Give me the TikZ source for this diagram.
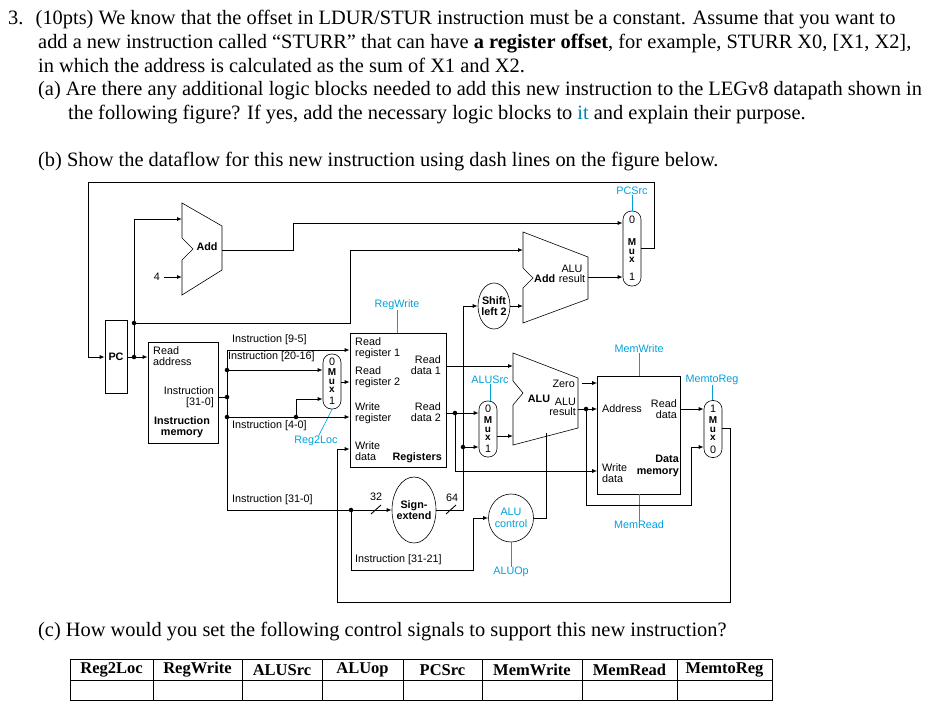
\documentclass[tikz,border=0pt]{standalone}
\usepackage{fontspec}
\setmainfont{Liberation Serif}
\newfontfamily\dsans{Liberation Sans}
\usetikzlibrary{arrows.meta,shapes.geometric}
\definecolor{ctl}{RGB}{0,160,220}
\begin{document}
\begin{tikzpicture}[x=1pt,y=-1pt,
  q/.style={anchor=base west,inner sep=0pt,font=\fontsize{20.4}{22}\selectfont},
  lb/.style={inner sep=0pt,font=\dsans\fontsize{10.8}{11.5}\selectfont,align=center},
  lbl/.style={lb,align=left,anchor=west},
  lbr/.style={lb,align=right,anchor=east},
  cs/.style={lb,text=ctl},
  bl/.style={lb,font=\dsans\bfseries\fontsize{10.8}{11.5}\selectfont},
  mx/.style={lb,font=\dsans\bfseries\fontsize{10}{8.5}\selectfont},
  w/.style={line width=0.9pt},
  a/.style={w,-{Latex[length=5pt,width=4pt]}},
  blk/.style={draw,line width=0.6pt,fill=white},
  dot/.style={circle,fill,inner sep=1.6pt},
  mux/.style={draw,line width=0.6pt,rounded corners=8.5pt,minimum width=18pt,inner sep=0pt},
  th/.style={inner sep=0pt,font=\bfseries\fontsize{16.5}{18}\selectfont}]
\useasboundingbox (0,0) rectangle (941,715);
% question text
\node[q] (l1) at (8,24) {3.\hspace{0.6em}(10pts) We know that the offset in LDUR/STUR instruction must be a constant. Assume that you want to};
\node[q] (l2) at (38,48) {add a new instruction called “STURR” that can have \textbf{a register offset}, for example, STURR X0, [X1, X2],};
\node[q] (l3) at (38,72) {in which the address is calculated as the sum of X1 and X2.};
\node[q] (l4) at (38,95) {(a) Are there any additional logic blocks needed to add this new instruction to the LEGv8 datapath shown in};
\node[q] (l5) at (68,119) {the following figure? If yes, add the necessary logic blocks to \textcolor{ctl!80!black}{it} and explain their purpose.};
\node[q] (l6) at (38,166) {(b) Show the dataflow for this new instruction using dash lines on the figure below.};
\node[q] (l7) at (38,636) {(c) How would you set the following control signals to support this new instruction?};
% table
\draw[line width=0.8pt] (70,659) rectangle (772,700);
\draw[line width=0.8pt] (70,680) -- (772,680);
\foreach \x in {153,242,322,403,482,582,677}{\draw[line width=0.8pt] (\x,659) -- (\x,700);}
\node[th] (t1) at (111.5,670) {Reg2Loc};
\node[th] (t2) at (197.5,670) {RegWrite};
\node[th] (t3) at (282,670) {ALUSrc};
\node[th] (t4) at (362.5,670) {ALUop};
\node[th] (t5) at (442.5,670) {PCSrc};
\node[th] (t6) at (532,670) {MemWrite};
\node[th] (t7) at (629.5,670) {MemRead};
\node[th] (t8) at (724.5,670) {MemtoReg};
% ---- datapath blocks
\node[blk,minimum width=22pt,minimum height=73pt] (pc) at (116,356.5) {};
\node[bl] (pct) at (116,357) {PC};
\node[blk,minimum width=70pt,minimum height=101pt] (im) at (183,392.5) {};
\node[lbl] (imra) at (153,356) {Read\\address};
\node[lbr] (imi) at (214,397) {Instruction\\{}[31-0]};
\node[bl] (imm) at (182,427) {Instruction\\memory};
% Add 1
\draw[blk] (182,203) -- (222,226) -- (222,270) -- (182,295) -- (182,260) -- (193,249) -- (182,238) -- cycle;
\node[bl] (add1) at (207,247) {Add};
\node[lb] (four) at (157,277) {4};
% Add 2
\draw[blk] (523,232) -- (588,257) -- (588,299) -- (523,323) -- (523,288) -- (533,278) -- (523,268) -- cycle;
\node[bl,anchor=west] (add2) at (534,279) {Add};
\node[lb] (add2r) at (572,274) {ALU\\[-2pt]result};
% PCSrc mux
\node[mux,minimum height=75pt] (m1) at (632,248.5) {};
\node[lb] (m1a) at (632,220) {0};
\node[mx] (m1b) at (632,251) {M\\u\\x};
\node[lb] (m1c) at (632,277) {1};
\node[cs] (pcsrc) at (632,191) {PCSrc};
% shift left 2
\node[blk,ellipse,minimum width=32pt,minimum height=46pt,inner sep=0pt] (sl) at (494,306) {};
\node[bl] (slt) at (494,306) {Shift\\left 2};
% Registers
\node[blk,minimum width=96pt,minimum height=134pt] (rg) at (398,400) {};
\node[lbl] (rr1) at (355,348) {Read\\register 1};
\node[lbl] (rr2) at (355,377) {Read\\register 2};
\node[lbl] (wr) at (355,413) {Write\\register};
\node[lbl] (wd) at (355,451) {Write\\data};
\node[lbr] (rd1) at (441,365) {Read\\data 1};
\node[lbr] (rd2) at (441,412) {Read\\data 2};
\node[bl,anchor=east] (rgt) at (442,458) {Registers};
\node[cs] (regwrite) at (397,305) {RegWrite};
% Reg2Loc mux
\node[mux,minimum height=55pt] (m2) at (332,381.5) {};
\node[lb] (m2a) at (332,362) {0};
\node[mx] (m2b) at (332,381) {M\\u\\x};
\node[lb] (m2c) at (332,401) {1};
\node[cs] (reg2loc) at (316,441) {Reg2Loc};
% sign extend
\node[blk,ellipse,minimum width=44pt,minimum height=66pt,inner sep=0pt] (se) at (414,510) {};
\node[bl] (set) at (414,510) {Sign-\\extend};
% ALUSrc mux
\node[mux,minimum height=56pt] (m3) at (488,429) {};
\node[lb] (m3a) at (488,409) {0};
\node[mx] (m3b) at (488,429) {M\\u\\x};
\node[lb] (m3c) at (488,449) {1};
\node[cs] (alusrc) at (490,380) {ALUSrc};
% ALU
\draw[blk] (513,353) -- (578,378) -- (578,428) -- (513,445) -- (513,405) -- (523,393) -- (513,381) -- cycle;
\node[bl] (alut) at (539,399) {ALU};
\node[lb,anchor=east] (zero) at (575,384) {Zero};
\node[lbr] (alur) at (576,407) {ALU\\[-2pt]result};
% ALU control
\node[blk,ellipse,minimum width=45pt,minimum height=48pt,inner sep=0pt] (ac) at (511,518) {};
\node[lb,text=ctl] (act) at (511,518) {ALU\\control};
\node[cs] (aluop) at (511,572) {ALUOp};
% Data memory
\node[blk,minimum width=83pt,minimum height=118pt] (dm) at (639,435) {};
\node[lb,anchor=west] (dma) at (602,409) {Address};
\node[lbr] (dmr) at (677,409) {Read\\data};
\node[lbl] (dmw) at (602,473) {Write\\data};
\node[bl,align=right,anchor=east] (dmm) at (679,466) {Data\\memory};
\node[cs] (memwrite) at (639,349) {MemWrite};
\node[cs] (memread) at (639,525) {MemRead};
% MemtoReg mux
\node[mux,minimum height=57pt] (m4) at (713,429) {};
\node[lb] (m4a) at (713,409) {1};
\node[mx] (m4b) at (713,429) {M\\u\\x};
\node[lb] (m4c) at (713,450) {0};
\node[cs] (memtoreg) at (712,380) {MemtoReg};
% wire labels
\node[lb,anchor=west] (i95) at (232,340) {Instruction [9-5]};
\node[lb,anchor=west] (i2016) at (228,357) {Instruction [20-16]};
\node[lb,anchor=west] (i40) at (232,426) {Instruction [4-0]};
\node[lb,anchor=west] (i310) at (232,500) {Instruction [31-0]};
\node[lb,anchor=west] (i3121) at (355,560) {Instruction [31-21]};
\node[lb] (n32) at (376,497) {32};
\node[lb] (n64) at (452,498) {64};
% ---- control lines
\draw[ctl,line width=0.6pt] (pcsrc) -- (m1.north);
\draw[ctl,line width=0.6pt] (regwrite) -- (rg.north -| regwrite);
\draw[ctl,line width=0.6pt] (m2.south) -- (reg2loc);
\draw[ctl,line width=0.6pt] (alusrc) -- (m3.north -| alusrc);
\draw[ctl,line width=0.6pt] (ac.south) -- (aluop);
\draw[ctl,line width=0.6pt] (memwrite) -- (dm.north);
\draw[ctl,line width=0.6pt] (dm.south) -- (memread);
\draw[ctl,line width=0.6pt] (memtoreg) -- (m4.north -| memtoreg);
% ---- data wires
\coordinate (pcd) at (134,357);
\node[dot] (d1) at (pcd) {};
\node[dot] (d2) at (134,323) {};
\draw[a] (m1.east |- 0,248) -- (654,248) -- (654,182) -- (88,182) -- (88,357) -- (pc.west |- 0,357);
\draw[w] (pc.east |- 0,357) -- (d1);
\draw[a] (d1) -- (im.west |- 0,357);
\draw[a] (d1) -- (134,219) -- (182,219);
\draw[w] (d2) -- (350,323) -- (350,250) -- (520,250);
\draw[a] (510,250) -- (523,250);
\draw[a] (164,277) -- (182,277);
\draw[a] (222,250) -- (293,250) -- (293,223) -- (m1.west |- 0,223);
\draw[a] (588,277) -- (m1.west |- 0,277);
\draw[a] (sl.east) -- (523,306);
% instruction bus
\node[dot] (b0) at (227,397) {};
\node[dot] (b1) at (227,370) {};
\node[dot] (b2) at (227,417) {};
\node[dot] (b3) at (296,417) {};
\node[dot] (b4) at (351,510) {};
\draw[w] (im.east |- 0,397) -- (b0);
\draw[a] (227,510) -- (227,350) -- (rg.west |- 0,350);
\draw[a] (b1) -- (m2.west |- 0,370);
\draw[a] (b2) -- (rg.west |- 0,417);
\draw[a] (b3) -- (296,399) -- (m2.west |- 0,399);
\draw[a] (m2.east |- 0,382) -- (rg.west |- 0,382);
\draw[a] (227,510) -- (se.west);
\draw[w] (371,514) -- (381,505);
\draw[w] (446,514) -- (456,505);
\draw[a] (b4) -- (351,570) -- (473,570) -- (473,518) -- (ac.west);
% sign extend out
\node[dot] (b5) at (463,447) {};
\draw[a] (se.east) -- (463,510) -- (463,306) -- (sl.west);
\draw[a] (b5) -- (m3.west |- 0,447);
% reg outputs
\draw[a] (rg.east |- 0,366) -- (513,366);
\node[dot] (b6) at (455,413) {};
\draw[w] (rg.east |- 0,413) -- (b6);
\draw[a] (b6) -- (m3.west |- 0,413);
\draw[a] (b6) -- (455,471) -- (dm.west |- 0,471);
\draw[a] (m3.east |- 0,436) -- (513,436);
\draw[w] (ac.east) -- (546,518) -- (546,433);
% ALU outputs
\draw[a] (582,383) -- (dm.west |- 0,383);
\node[dot] (b7) at (586,409) {};
\draw[w] (578,409) -- (b7);
\draw[a] (b7) -- (dm.west |- 0,409);
\draw[a] (b7) -- (586,505) -- (691,505) -- (691,447) -- (m4.west |- 0,447);
\draw[a] (dm.east |- 0,409) -- (m4.west |- 0,409);
\draw[a] (m4.east |- 0,428) -- (730,428) -- (730,602) -- (337,602) -- (337,449) -- (rg.west |- 0,449);
\end{tikzpicture}
\end{document}
